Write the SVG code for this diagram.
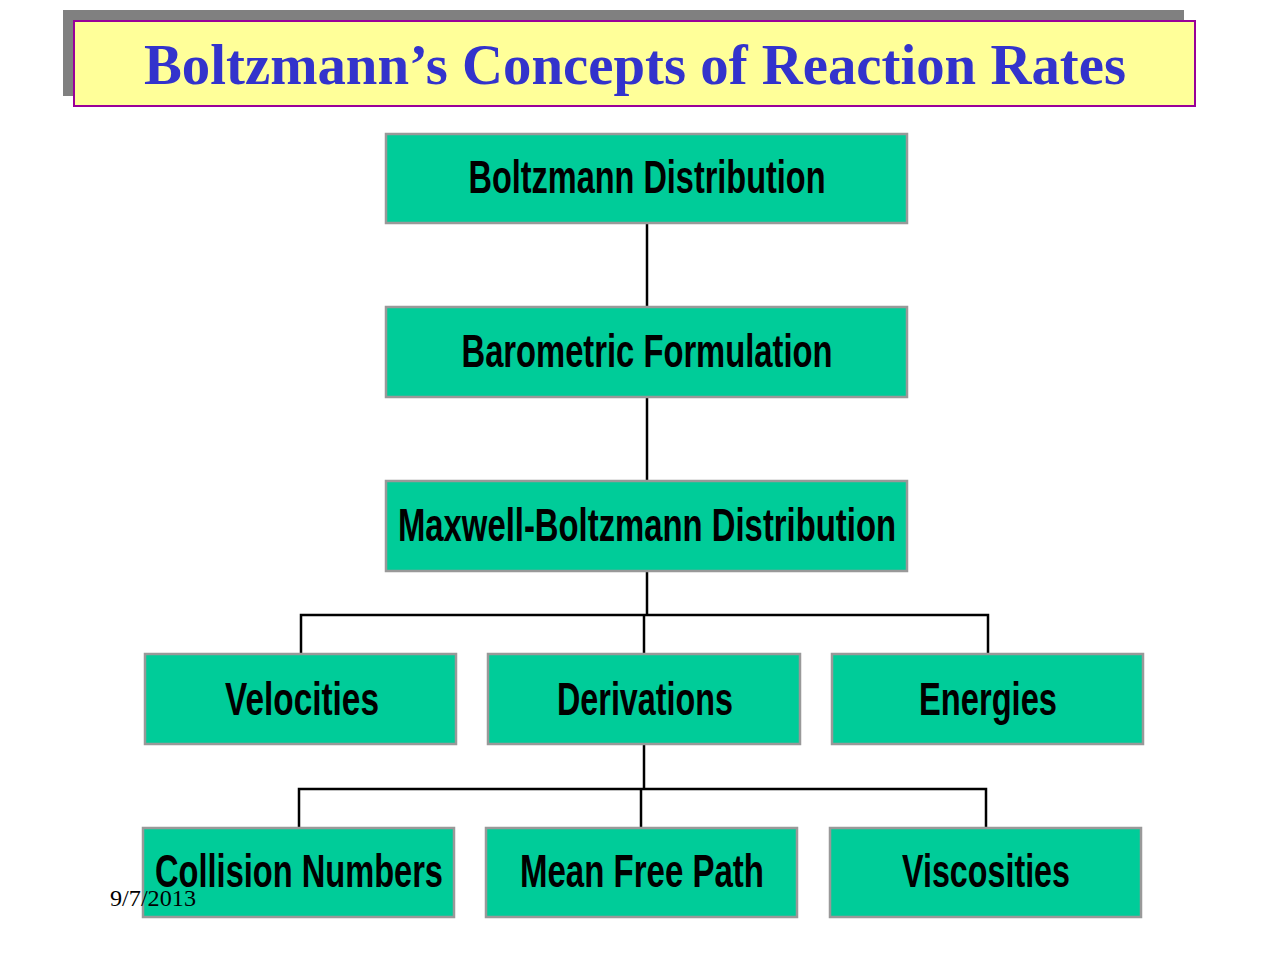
<svg xmlns="http://www.w3.org/2000/svg" width="1280" height="960" viewBox="0 0 1280 960">
<style>
.box{fill:#00CC99;stroke:#999999;stroke-width:2.5}
.lbl{font-family:"Liberation Sans",Arial,sans-serif;font-weight:bold;font-size:46px;fill:#000;text-anchor:middle}
.conn{stroke:#000;stroke-width:2.5;fill:none}
</style>
<rect x="0" y="0" width="1280" height="960" fill="#ffffff"/>
<g id="title">
<rect x="63" y="10" width="1121" height="86" fill="#808080"/>
<rect x="74" y="21" width="1121" height="85" fill="#FFFF99" stroke="#990099" stroke-width="2"/>
<text x="635" y="84" font-family="'Liberation Serif','Times New Roman',serif" font-weight="bold" font-size="56" fill="#3333CC" text-anchor="middle" textLength="982" lengthAdjust="spacingAndGlyphs">Boltzmann’s Concepts of Reaction Rates</text>
</g>
<g id="connectors">
<polyline class="conn" points="647,223 647,307"/>
<polyline class="conn" points="647,397 647,481"/>
<polyline class="conn" points="647,571 647,615"/>
<polyline class="conn" points="301,654 301,615 988,615 988,654"/>
<polyline class="conn" points="644,615 644,654"/>
<polyline class="conn" points="644,744 644,789"/>
<polyline class="conn" points="299,828 299,789 986,789 986,828"/>
<polyline class="conn" points="641,789 641,828"/>
</g>
<g id="n-boltzmann">
<rect class="box" x="386" y="134" width="521" height="89"/>
<text class="lbl" x="647" y="193" textLength="357" lengthAdjust="spacingAndGlyphs">Boltzmann Distribution</text>
</g>
<g id="n-barometric">
<rect class="box" x="386" y="307" width="521" height="90"/>
<text class="lbl" x="647" y="367" textLength="371" lengthAdjust="spacingAndGlyphs">Barometric Formulation</text>
</g>
<g id="n-maxwell">
<rect class="box" x="386" y="481" width="521" height="90"/>
<text class="lbl" x="647" y="541" textLength="498" lengthAdjust="spacingAndGlyphs">Maxwell-Boltzmann Distribution</text>
</g>
<g id="n-velocities">
<rect class="box" x="145" y="654" width="311" height="90"/>
<text class="lbl" x="302" y="715" textLength="154" lengthAdjust="spacingAndGlyphs">Velocities</text>
</g>
<g id="n-derivations">
<rect class="box" x="488" y="654" width="312" height="90"/>
<text class="lbl" x="645" y="715" textLength="176" lengthAdjust="spacingAndGlyphs">Derivations</text>
</g>
<g id="n-energies">
<rect class="box" x="832" y="654" width="311" height="90"/>
<text class="lbl" x="988" y="715" textLength="138" lengthAdjust="spacingAndGlyphs">Energies</text>
</g>
<g id="n-collision">
<rect class="box" x="143" y="828" width="311" height="89"/>
<text class="lbl" x="299" y="887" textLength="288" lengthAdjust="spacingAndGlyphs">Collision Numbers</text>
</g>
<g id="n-meanfree">
<rect class="box" x="486" y="828" width="311" height="89"/>
<text class="lbl" x="642" y="887" textLength="244" lengthAdjust="spacingAndGlyphs">Mean Free Path</text>
</g>
<g id="n-viscosities">
<rect class="box" x="830" y="828" width="311" height="89"/>
<text class="lbl" x="986" y="887" textLength="168" lengthAdjust="spacingAndGlyphs">Viscosities</text>
</g>
<text x="110" y="906" font-family="'Liberation Serif','Times New Roman',serif" font-size="24" fill="#000" textLength="86" lengthAdjust="spacingAndGlyphs">9/7/2013</text>
</svg>
